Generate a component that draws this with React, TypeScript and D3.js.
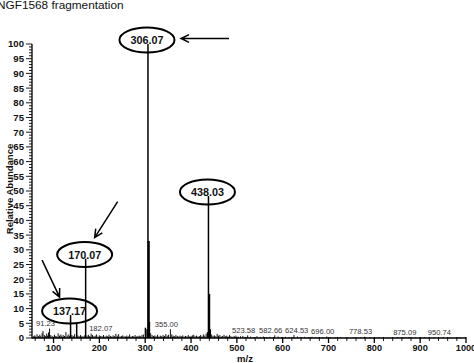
import React from "react";
import * as d3 from "d3";

const title = "NGF1568 fragmentation";
const xLabel = "m/z";
const yLabel = "Relative Abundance";

const xTicks = [100, 200, 300, 400, 500, 600, 700, 800, 900, 1000];
const yTicks = d3.range(0, 101, 5);

// Labelled (circled) fragment peaks
const circledMz = [137.17, 170.07, 306.07, 438.03];
const circledIntensity = [7.8, 27, 100, 48.3];

// Other strong peaks
const strongMz = [150.5, 300.5, 304.2, 307.6, 309.2, 440.2, 436.3, 442.0];
const strongIntensity = [5.0, 3.5, 3.0, 33, 5.5, 15, 2.0, 3.0];

// Small labelled peaks
const minorMz = [91.23, 182.07, 355.0, 523.58, 582.66, 624.53, 696.0, 778.53, 875.09, 950.74];
const minorIntensity = [3.2, 1.5, 3.0, 0.9, 0.9, 1.0, 0.5, 0.4, 0.3, 0.3];

// Background noise peaks
const noiseMz = [
  56, 59, 61, 64, 67, 70, 72, 75, 77, 80, 82, 85, 87, 89, 94, 97, 99, 102, 105, 107,
  110, 113, 116, 118, 121, 124, 127, 130, 132, 135, 140, 143, 146, 153, 156, 159, 162, 165, 168, 173,
  176, 179, 185, 188, 191, 194, 197, 200, 203, 206, 209, 212, 215, 218, 221, 224, 227, 230, 233, 236,
  239, 242, 245, 248, 251, 254, 257, 260, 263, 266, 269, 272, 275, 278, 281, 284, 287, 290, 293, 296,
  312, 315, 318, 321, 324, 327, 330, 333, 336, 339, 342, 345, 348, 351, 358, 361, 364, 367, 370, 373,
  376, 379, 382, 385, 388, 391, 394, 397, 400, 403, 406, 409, 412, 415, 418, 421, 424, 427, 430, 433,
  445, 448, 451, 454, 457, 460, 463, 466, 469, 472, 475, 478, 481, 484, 487, 490, 494, 498, 503, 508,
  513, 518, 530, 537, 544, 551, 558, 565, 572, 590, 598, 606, 614, 632, 640, 648, 656, 664, 672, 680,
  688, 705, 715, 725, 740, 755, 770, 790, 810, 830, 850, 865, 890, 910, 930, 965, 985,
];
const noiseIntensity = [
  0.6, 0.9, 0.5, 1.3, 0.7, 1.1, 0.6, 1.6, 2.4, 1.0, 0.7, 1.5, 0.8, 1.9, 1.0, 0.6, 0.5, 1.1, 0.7, 0.5,
  1.6, 0.8, 1.2, 0.6, 1.0, 0.7, 2.0, 0.6, 1.2, 0.8, 1.0, 0.7, 1.3, 0.9, 0.6, 1.0, 0.7, 0.5, 0.9, 0.8,
  1.1, 0.7, 1.0, 0.6, 0.8, 1.2, 0.5, 0.9, 0.7, 0.6, 1.0, 0.5, 0.8, 0.6, 1.1, 0.7, 0.5, 0.9, 0.6, 1.4,
  0.8, 1.3, 0.5, 0.7, 0.9, 0.6, 0.5, 0.8, 0.6, 1.2, 0.5, 0.7, 0.6, 1.0, 0.5, 0.7, 0.8, 0.6, 1.0, 1.2,
  1.6, 1.0, 0.7, 0.9, 0.6, 1.1, 0.5, 0.8, 0.6, 1.0, 0.7, 1.3, 0.8, 1.1, 1.2, 0.8, 0.6, 1.0, 0.7, 0.5,
  0.8, 0.6, 0.9, 0.5, 0.7, 0.6, 1.0, 0.5, 0.7, 0.9, 1.1, 0.6, 0.8, 0.5, 0.7, 1.0, 0.6, 1.2, 0.8, 1.5,
  1.2, 0.7, 0.9, 0.6, 1.4, 0.8, 1.0, 0.5, 0.7, 1.1, 0.6, 0.8, 0.5, 1.0, 0.6, 0.4, 0.7, 0.8, 0.5, 0.6,
  0.7, 0.4, 0.5, 0.3, 0.6, 0.4, 0.5, 0.3, 0.4, 0.5, 0.3, 0.4, 0.3, 0.5, 0.3, 0.4, 0.3, 0.4, 0.3, 0.3,
  0.3, 0.3, 0.2, 0.3, 0.2, 0.3, 0.2, 0.3, 0.2, 0.2, 0.3, 0.2, 0.2, 0.3, 0.2, 0.2, 0.2,
];

const W = 474;
const H = 363;
const FONT = "Arial, 'Liberation Sans', Helvetica, sans-serif";

export default function App() {
  const x = d3.scaleLinear().domain([53, 1000]).range([32, 466]);
  const y = d3.scaleLinear().domain([0, 100]).range([338, 44]);
  const base = y(0);

  const xMinor = d3.range(60, 1001, 20);
  const yMinor = d3.range(0, 101, 1);

  const arrowHead = (x1: number, y1: number, x2: number, y2: number) => {
    const a = Math.atan2(y1 - y2, x1 - x2);
    const L = 9, s = 0.45;
    const p1 = [x2 + L * Math.cos(a + s), y2 + L * Math.sin(a + s)];
    const p2 = [x2 + L * Math.cos(a - s), y2 + L * Math.sin(a - s)];
    return `M${x1},${y1}L${x2},${y2}M${p1[0]},${p1[1]}L${x2},${y2}L${p2[0]},${p2[1]}`;
  };

  const ex = (i: number) => x(circledMz[i]) - 1;
  const ey = (i: number) => y(circledIntensity[i]) - 4;

  // minor label placement with simple collision avoidance
  const minorPos: { cx: number; anchor: string }[] = [];
  let lastRight = -Infinity;
  minorMz.forEach((m, i) => {
    const px = x(m);
    const nearCircle = circledMz.some((c) => Math.abs(x(c) - px) < 12);
    if (nearCircle || (i > 0 && px - x(minorMz[i - 1]) < 50 && m < 200)) {
      minorPos.push({ cx: px - 2, anchor: "start" });
      lastRight = px - 2 + 24;
    } else {
      let cx = px - 4;
      if (cx - 11.5 < lastRight + 3) cx = lastRight + 3 + 11.5;
      minorPos.push({ cx, anchor: "middle" });
      lastRight = cx + 11.5;
    }
  });

  return (
    <svg
      width={W}
      height={H}
      style={{ position: "absolute", left: 0, top: 0, background: "#fff" }}
      fontFamily={FONT}
    >
      <rect width={W} height={H} fill="#fff" />
      <text x={-3} y={9} fontSize={11.8} fill="#111">{title}</text>

      <g stroke="#111" strokeWidth={1}>
        {noiseMz.map((m, i) => (
          <line key={i} x1={x(m)} x2={x(m)} y1={base} y2={y(noiseIntensity[i])} />
        ))}
        {minorMz.map((m, i) => (
          <line key={"m" + i} x1={x(m)} x2={x(m)} y1={base} y2={y(minorIntensity[i])} />
        ))}
      </g>
      <g stroke="#000" strokeWidth={1.5}>
        {strongMz.map((m, i) => (
          <line key={i} x1={x(m)} x2={x(m)} y1={base} y2={y(strongIntensity[i])} strokeWidth={strongIntensity[i] > 20 ? 2.2 : 1.5} />
        ))}
        {circledMz.map((m, i) => (
          <line key={"c" + i} x1={x(m)} x2={x(m)} y1={base} y2={y(circledIntensity[i])} />
        ))}
      </g>

      <g fontSize={7.6} fill="#333">
        {minorMz.map((m, i) => (
          <text key={i} x={minorPos[i].cx} y={y(minorIntensity[i]) - 2.5} textAnchor={minorPos[i].anchor}>
            {m.toFixed(2)}
          </text>
        ))}
      </g>

      <g stroke="#000" fill="none">
        <line x1={32} x2={32} y1={base + 0.5} y2={y(100)} strokeWidth={1.3} />
        <line x1={32} x2={x(1000)} y1={base} y2={base} strokeWidth={1.5} />
        {yMinor.map((v) => (
          <line key={v} x1={v % 5 === 0 ? 26 : 29} x2={32} y1={y(v)} y2={y(v)} strokeWidth={0.9} />
        ))}
        {xMinor.map((v) => (
          <line key={v} x1={x(v)} x2={x(v)} y1={base - 1} y2={base + (v % 100 === 0 ? 5 : 3)} strokeWidth={v % 100 === 0 ? 1.3 : 0.9} />
        ))}
      </g>
      <g fontSize={9.6} fontWeight="bold" fill="#111" textAnchor="end">
        {yTicks.map((v) => (
          <text key={v} x={24} y={y(v)} dy="0.36em">{v}</text>
        ))}
      </g>
      <g fontSize={9.2} fontWeight="bold" fill="#111" textAnchor="middle">
        {xTicks.map((v) => (
          <text key={v} x={x(v)} y={351}>{v}</text>
        ))}
      </g>
      <text x={245} y={362} fontSize={9.5} fontWeight="bold" textAnchor="middle" fill="#111">{xLabel}</text>
      <text
        transform={`translate(13,189) rotate(-90)`}
        fontSize={9.5}
        fontWeight="bold"
        textAnchor="middle"
        fill="#111"
      >
        {yLabel}
      </text>

      {circledMz.map((m, i) => (
        <g key={i}>
          <ellipse cx={ex(i)} cy={ey(i)} rx={27.5} ry={12.5} fill="none" stroke="#000" strokeWidth={2} />
          <text x={ex(i)} y={ey(i)} dy="0.36em" fontSize={10.8} fontWeight="bold" textAnchor="middle" fill="#111">
            {m.toFixed(2)}
          </text>
        </g>
      ))}

      <g stroke="#000" strokeWidth={1.5} fill="none">
        <path d={arrowHead(ex(2) + 82, ey(2) - 1.5, ex(2) + 34, ey(2) - 1.5)} />
        <path d={arrowHead(ex(1) + 33, ey(1) - 53, ex(1) + 10, ey(1) - 17)} />
        <path d={arrowHead(ex(0) - 27.5, ey(0) - 51, ex(0) - 10, ey(0) - 14)} />
      </g>
    </svg>
  );
}
